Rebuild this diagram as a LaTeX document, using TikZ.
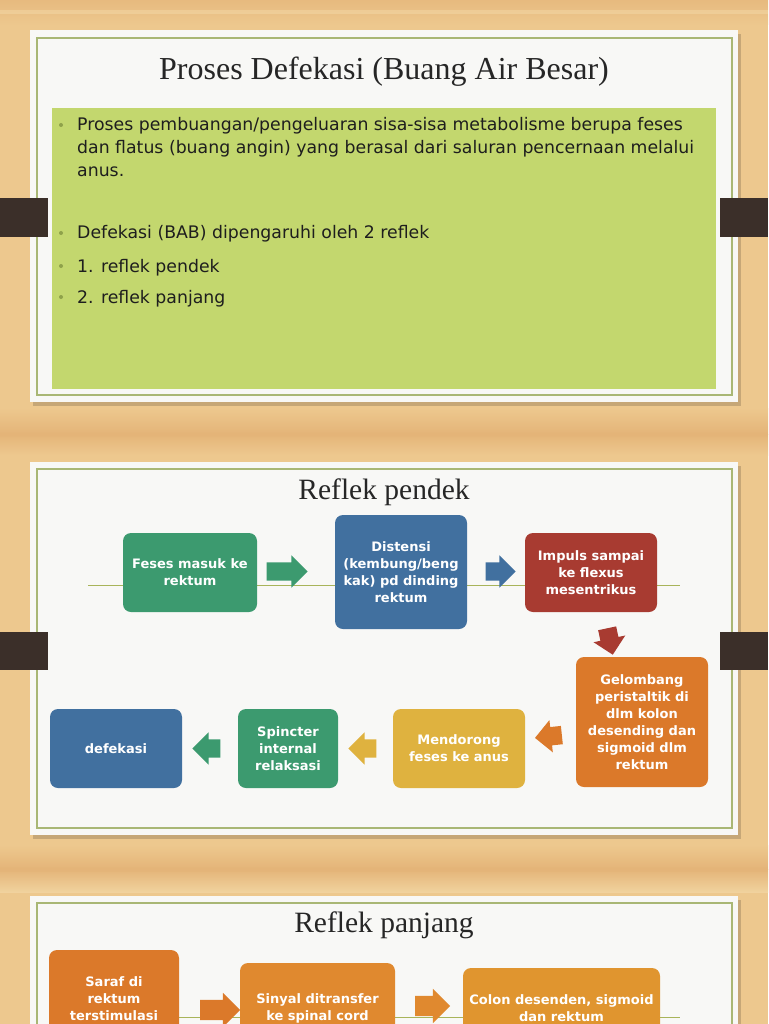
\documentclass[tikz,border=0pt]{standalone}
\usepackage{fontspec}
\setmainfont{Liberation Serif}
\newfontfamily\bulfont{DejaVu Sans}
\newfontfamily\boxfont{DejaVu Sans}
\usetikzlibrary{shapes.arrows}
\definecolor{woodA}{HTML}{EDC88E}
\definecolor{woodB}{HTML}{E4B478}
\definecolor{woodC}{HTML}{F3D9A8}
\definecolor{tabcol}{HTML}{3B2F29}
\definecolor{frame}{HTML}{A9B775}
\definecolor{slidebg}{HTML}{F8F8F6}
\definecolor{lime}{HTML}{C3D76E}
\definecolor{cgreen}{HTML}{3C9A6F}
\definecolor{cblue}{HTML}{41709F}
\definecolor{cred}{HTML}{A83B31}
\definecolor{corange}{HTML}{DB792A}
\definecolor{corangeb}{HTML}{E0892F}
\definecolor{corangec}{HTML}{E0952F}
\definecolor{cyellow}{HTML}{DFB23F}
\definecolor{textdark}{HTML}{1E1E1E}
\definecolor{bulcol}{HTML}{8FA24A}
\definecolor{linecol}{HTML}{A8B45A}
\begin{document}
\begin{tikzpicture}[x=1pt,y=-1pt,
  fbox/.style={rounded corners=8pt, text=white, align=center, inner sep=2pt,
    font=\boxfont\bfseries\fontsize{13}{17}\selectfont},
  barrow/.style={single arrow, single arrow head extend=7pt, inner xsep=0pt, inner ysep=9pt, draw=none},
  btext/.style={anchor=base west, inner sep=0pt, text=textdark,
    font=\bulfont\fontsize{17.3}{23}\selectfont},
  bul/.style={circle, fill=bulcol, inner sep=0pt, minimum size=4pt},
  ttl/.style={font=\fontsize{32}{36}\selectfont, text=black!85, inner sep=0pt},
  ttlb/.style={font=\fontsize{29.5}{34}\selectfont, text=black!85, inner sep=0pt},
  card/.style={fill=slidebg},
  frm/.style={draw=frame, line width=1.2pt},
  shadow/.style={fill=black, opacity=0.16},
  tab/.style={fill=tabcol},
]
\useasboundingbox (0,0) rectangle (768,1024);
\clip (0,0) rectangle (768,1024);
% wood background
\fill[woodA] (0,0) rectangle (768,1024);
\shade[top color=woodB!70!woodA, bottom color=woodA] (0,0) rectangle (768,25);
\fill[woodC, opacity=0.5] (0,10) rectangle (768,14);
\shade[top color=woodA, bottom color=woodB] (0,408) rectangle (768,434);
\shade[top color=woodB, bottom color=woodA] (0,434) rectangle (768,455);
\fill[woodB, opacity=0.4] (0,432) rectangle (768,437);
\shade[top color=woodA, bottom color=woodB] (0,845) rectangle (768,869);
\shade[top color=woodB, bottom color=woodC!60!woodA] (0,869) rectangle (768,892);
\fill[woodB, opacity=0.4] (0,867) rectangle (768,872);

% ---------- slide 1 ----------
\fill[shadow] (33,34) rectangle (741,406);
\fill[card] (30,30) rectangle (738,402);
\draw[frm] (37,38) rectangle (732,395);
\fill[lime] (52,108) rectangle (716,389);
\node[ttl] (t1) at (384,72) {Proses Defekasi (Buang Air Besar)};
\node[bul] (u1) at (61,125) {};
\node[btext] (l1) at (77,131) {Proses pembuangan/pengeluaran sisa-sisa metabolisme berupa feses};
\node[btext] (l2) at (77,154) {dan flatus (buang angin) yang berasal dari saluran pencernaan melalui};
\node[btext] (l3) at (77,177) {anus.};
\node[bul] (u2) at (61,233) {};
\node[btext] (l4) at (77,239) {Defekasi (BAB) dipengaruhi oleh 2 reflek};
\node[bul] (u3) at (61,266) {};
\node[btext] (l5) at (77,272) {1. reflek pendek};
\node[bul] (u4) at (61,297) {};
\node[btext] (l6) at (77,303) {2. reflek panjang};
\fill[tab] (0,198) rectangle (48,237);
\fill[tab] (720,198) rectangle (768,237);

% ---------- slide 2 ----------
\fill[shadow] (33,466) rectangle (741,839);
\fill[card] (30,462) rectangle (738,835);
\draw[frm] (37,469) rectangle (732,828);
\node[ttlb] (t2) at (384,492) {Reflek pendek};
\coordinate (h1) at (88,585);
\coordinate (h2) at (680,585);
\draw[linecol, line width=1pt] (h1) -- (h2);
\node[fbox, fill=cgreen, minimum width=134pt, minimum height=79pt] (b1) at (190,572.5) {Feses masuk ke\\rektum};
\node[fbox, fill=cblue, minimum width=132pt, minimum height=114pt] (b2) at (401,572) {Distensi\\(kembung/beng\\kak) pd dinding\\rektum};
\node[fbox, fill=cred, minimum width=132pt, minimum height=79pt] (b3) at (591,572.5) {Impuls sampai\\ke flexus\\mesentrikus};
\node[fbox, fill=corange, minimum width=132pt, minimum height=130pt] (b4) at (642,722) {Gelombang\\peristaltik di\\dlm kolon\\desending dan\\sigmoid dlm\\rektum};
\node[fbox, fill=cyellow, minimum width=132pt, minimum height=79pt] (b5) at (459,748.5) {Mendorong\\feses ke anus};
\node[fbox, fill=cgreen, minimum width=100pt, minimum height=79pt] (b6) at (288,748.5) {Spincter\\internal\\relaksasi};
\node[fbox, fill=cblue, minimum width=132pt, minimum height=79pt] (b7) at (116,748.5) {defekasi};
\node[barrow, fill=cgreen, minimum height=41pt] (a1) at (282.5,571.5) {};
\node[barrow, fill=cblue, minimum height=30pt] (a2) at (496,571.5) {};
\node[barrow, fill=cred, minimum height=27pt, rotate=-78] (a3) at (609,637) {};
\node[barrow, fill=corange, minimum height=27pt, rotate=186] (a4) at (553,736) {};
\node[barrow, fill=cyellow, minimum height=28pt, shape border rotate=180] (a5) at (367,748.5) {};
\node[barrow, fill=cgreen, minimum height=28pt, shape border rotate=180] (a6) at (211,748.5) {};
\fill[tab] (0,632) rectangle (48,670);
\fill[tab] (720,632) rectangle (768,670);

% ---------- slide 3 ----------
\fill[shadow] (33,900) rectangle (741,1040);
\fill[card] (30,896) rectangle (738,1040);
\draw[frm] (37,903) rectangle (732,1060);
\node[ttlb] (t3) at (384,925) {Reflek panjang};
\coordinate (k1) at (88,1017);
\coordinate (k2) at (680,1017);
\draw[linecol, line width=1pt] (k1) -- (k2);
\node[fbox, fill=corange, minimum width=130pt, minimum height=98pt] (c1) at (114,999) {Saraf di\\rektum\\terstimulasi};
\node[fbox, fill=corangeb, minimum width=155pt, minimum height=90pt] (c2) at (317.5,1008) {Sinyal ditransfer\\ke spinal cord};
\node[fbox, fill=corangec, minimum width=197pt, minimum height=80pt] (c3) at (561.5,1008) {Colon desenden, sigmoid\\dan rektum};
\node[barrow, fill=corange, minimum height=40pt, inner ysep=10pt] (a7) at (215,1010) {};
\node[barrow, fill=corangeb, minimum height=35pt, inner ysep=10pt] (a8) at (427.5,1006) {};
\end{tikzpicture}
\end{document}
